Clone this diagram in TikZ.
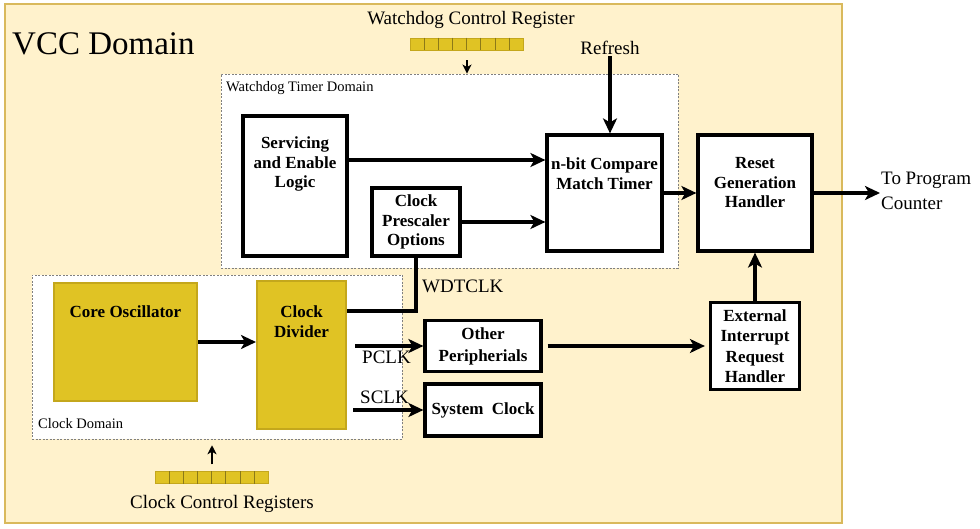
\documentclass[tikz,border=0pt]{standalone}
\usepackage{fontspec}
\setmainfont{Liberation Serif}
\usetikzlibrary{arrows.meta,positioning}

\definecolor{vccfill}{HTML}{FFF2CC}
\definecolor{vccline}{HTML}{D9B95C}
\definecolor{gold}{HTML}{E0C324}
\definecolor{goldline}{HTML}{C4A71C}
\definecolor{bitline}{HTML}{8C7A18}

\begin{document}
\begin{tikzpicture}[x=1pt,y=-1pt,
  main node/.style={rectangle,draw,line width=3.2pt,fill=white,inner sep=2pt,align=center,
    font=\fontsize{17}{19.5}\selectfont\bfseries},
  gold node/.style={main node,fill=gold,draw=goldline,line width=2pt},
  box text/.style={align=center,inner sep=0pt,font=\fontsize{17}{19.5}\selectfont\bfseries},
  domain box/.style={rectangle,draw=gray,dash pattern=on 2pt off 1.5pt,line width=0.9pt,fill=white},
  reg node/.style={rectangle,fill=gold,draw=goldline,line width=0.5pt,
    minimum width=113pt,minimum height=12pt,inner sep=0pt},
  lbl/.style={font=\fontsize{19}{25}\selectfont,inner sep=1pt},
  small lbl/.style={font=\fontsize{14.5}{17}\selectfont,inner sep=1pt},
  arr/.style={-{Stealth[length=15pt,width=14pt,inset=4pt]},line width=3.2pt},
  small arr/.style={-{Stealth[length=9pt,width=9pt,inset=2.5pt]},line width=2.4pt},
  wire/.style={line width=3.2pt}]

  \useasboundingbox (0,0) rectangle (980,529);

  % outer domain
  \node[rectangle,draw=vccline,fill=vccfill,line width=2.6pt,minimum width=837pt,minimum height=519pt] (vcc) at (423.5,263.5) {};
  \node[anchor=base west,font=\fontsize{33}{36}\selectfont,inner sep=0pt] (vcctxt) at (12,55) {VCC Domain};

  % sub domains
  \node[domain box,minimum width=457pt,minimum height=194pt] (wtd) at (449.5,171) {};
  \node[small lbl,anchor=base west] (wtdtxt) at (225,92) {Watchdog Timer Domain};
  \node[domain box,minimum width=370pt,minimum height=164pt] (cdom) at (217,357) {};
  \node[small lbl,anchor=base west] (cdomtxt) at (37,428) {Clock Domain};

  % watchdog blocks
  \node[main node,minimum width=104pt,minimum height=140pt] (srv) at (295,186) {};
  \node[box text] (srvtxt) at ([yshift=22pt]srv.center) {Servicing\\and Enable\\Logic};
  \node[main node,minimum width=88pt,minimum height=68pt] (pre) at (416,222) {Clock\\Prescaler\\Options};
  \node[main node,minimum width=115pt,minimum height=116pt] (nbit) at (604.5,193) {};
  \node[box text] (nbittxt) at ([yshift=19.5pt]nbit.center) {n-bit Compare\\Match Timer};
  \node[main node,minimum width=114pt,minimum height=116pt] (rst) at (755,193) {};
  \node[box text] (rsttxt) at ([yshift=10pt]rst.center) {Reset\\Generation\\Handler};
  \node[main node,minimum width=89pt,minimum height=87pt,font=\fontsize{17}{20.5}\selectfont\bfseries] (ext) at (755,346) {External\\Interrupt\\Request\\Handler};

  % clock blocks
  \node[gold node,minimum width=143pt,minimum height=118pt] (osc) at (125.5,342) {};
  \node[box text] (osctxt) at ([yshift=30pt]osc.center) {Core Oscillator};
  \node[gold node,minimum width=89pt,minimum height=148pt] (div) at (301.5,355) {};
  \node[box text] (divtxt) at ([yshift=33.5pt]div.center) {Clock\\Divider};
  \node[main node,minimum width=116pt,minimum height=51pt,font=\fontsize{17}{22}\selectfont\bfseries] (oth) at (483,346) {Other\\Peripherials};
  \node[main node,minimum width=116pt,minimum height=52pt] (sys) at (483,410) {System~~Clock};

  % registers
  \node[reg node] (wreg) at (467,44) {};
  \node[reg node] (creg) at (212,477.5) {};
  \foreach \r in {wreg,creg}
    \foreach \i in {1,...,7}
      \draw[bitline,line width=0.9pt] ([xshift=\i*14.125pt]\r.north west) -- ([xshift=\i*14.125pt]\r.south west);

  % labels
  \node[lbl,anchor=base] (wregtxt) at (471,25) {Watchdog Control Register};
  \node[lbl,anchor=base] (cregtxt) at (222,508) {Clock Control Registers};
  \node[lbl,anchor=base] (refresh) at (610,55) {Refresh};
  \node[lbl,anchor=west,align=left] (pc) at (880,191) {To Program\\Counter};
  \node[lbl,anchor=base west] (wdtclk) at (421,293) {WDTCLK};
  \node[lbl,anchor=base west] (pclk) at (361,363) {PCLK};
  \node[lbl,anchor=base west] (sclk) at (359,403) {SCLK};

  % connectors
  \draw[small arr] ([yshift=-10pt]wreg.south) -- (wreg.south |- wtd.north);
  \draw[small arr] ([yshift=7pt]creg.north) -- ([yshift=26pt]creg.north);
  \draw[arr] (refresh.south) -- (refresh.south |- nbit.north);
  \draw[arr] ([yshift=26pt]srv.east) -- ([yshift=26pt]srv.east -| nbit.west);
  \draw[arr] (pre.east) -- (pre.east -| nbit.west);
  \draw[arr] (rst.east) -- (rst.east -| pc.west);
  \draw[wire] ([yshift=44pt]div.east) -| (pre.south);
  \draw[arr] (osc.east) -- (osc.east -| div.west);
  \draw[arr] ([xshift=8pt]div.east |- oth.west) -- (oth.west);
  \draw[arr] ([xshift=6pt]div.east |- sys.west) -- (sys.west);
  \path[arr]
    (nbit) edge (rst)
    (oth) edge[shorten <=5pt,shorten >=4pt] (ext)
    (ext) edge (rst);
\end{tikzpicture}
\end{document}
